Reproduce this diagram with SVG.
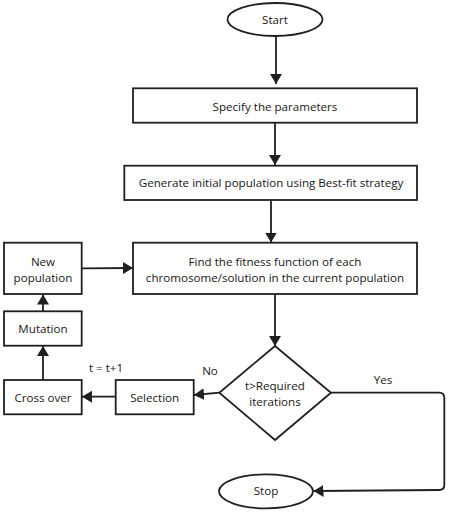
<svg xmlns="http://www.w3.org/2000/svg" width="474" height="523" viewBox="0 0 474 523">
<defs>
<style>
.s{fill:#fff;stroke:#231f20;stroke-width:1.8}
.c{fill:none;stroke:#231f20;stroke-width:1.8}
text{font-family:"Open Sans","Noto Sans","DejaVu Sans",sans-serif;font-size:11.6px;fill:#1a1718;text-anchor:middle}
</style>
<marker id="a" viewBox="0 0 10 12" refX="10" refY="6" markerWidth="10" markerHeight="12" markerUnits="userSpaceOnUse" orient="auto">
<path d="M0,0 L10,6 L0,12 z" fill="#231f20"/>
</marker>
</defs>
<rect width="474" height="523" fill="#fff"/>
<g id="connectors">
<path class="c" d="M276,36 L276,84" marker-end="url(#a)"/>
<path class="c" d="M275,123 L275,165" marker-end="url(#a)"/>
<path class="c" d="M271,200 L271,242.5" marker-end="url(#a)"/>
<path class="c" d="M275,294 L275,346" marker-end="url(#a)"/>
<path class="c" d="M219.5,392.7 L194,395" marker-end="url(#a)"/>
<path class="c" d="M115.7,396.7 L82,396.7" marker-end="url(#a)"/>
<path class="c" d="M43,380 L43,346" marker-end="url(#a)"/>
<path class="c" d="M43,311.3 L43,294.5" marker-end="url(#a)"/>
<path class="c" d="M81.7,268.3 L133,268" marker-end="url(#a)"/>
<path class="c" d="M331,392.7 L439,392.7 Q444.3,392.7 444.3,398 L444.3,485 Q444.3,490 439,490 L313.5,491" marker-end="url(#a)"/>
<text x="210" y="375">No</text>
<text x="383" y="384">Yes</text>
<text x="106" y="372">t = t+1</text>
</g>
<g id="start"><ellipse class="s" cx="275" cy="19.5" rx="47.5" ry="16.5"/><text x="275" y="23.5">Start</text></g>
<g id="specify"><rect class="s" x="133" y="88.3" width="284" height="34.4"/><text x="275" y="110.5">Specify the parameters</text></g>
<g id="generate"><rect class="s" x="124.3" y="165.7" width="292.7" height="34.3"/><text x="271" y="187">Generate initial population using Best-fit strategy</text></g>
<g id="fitness"><rect class="s" x="133" y="242.7" width="284" height="51.3"/><text x="275" y="265.5">Find the fitness function of each</text><text x="275" y="281.5">chromosome/solution in the current population</text></g>
<g id="newpop"><rect class="s" x="4" y="242.7" width="77.7" height="51.3"/><text x="43" y="265.5">New</text><text x="43" y="281.5">population</text></g>
<g id="mutation"><rect class="s" x="4" y="311.3" width="77.7" height="34.4"/><text x="43" y="333">Mutation</text></g>
<g id="crossover"><rect class="s" x="4" y="380" width="77.7" height="34.3"/><text x="43" y="401.5">Cross over</text></g>
<g id="selection"><rect class="s" x="115.7" y="380" width="78" height="34.3"/><text x="154.7" y="401.5">Selection</text></g>
<g id="decision"><path class="s" d="M275,346 L331,392.7 L275,440 L219.3,392.7 z"/><text x="275" y="390">t&gt;Required</text><text x="275" y="405.5">iterations</text></g>
<g id="stop"><ellipse class="s" cx="266" cy="491.3" rx="47" ry="17"/><text x="266" y="495.3">Stop</text></g>
</svg>
